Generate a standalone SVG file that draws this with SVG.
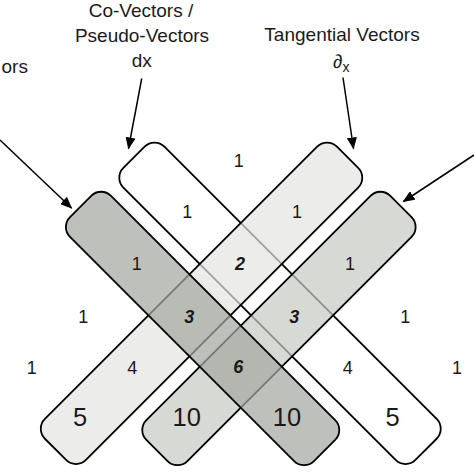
<svg xmlns="http://www.w3.org/2000/svg" width="474" height="474" viewBox="0 0 474 474">
  <defs>
    <marker id="ah" viewBox="0 0 12 10" refX="11" refY="5" markerWidth="12" markerHeight="10" markerUnits="userSpaceOnUse" orient="auto">
      <path d="M0,0 L12,5 L0,10 Z" fill="#000"/>
    </marker>
    <style>
      .band { stroke: #000; stroke-width: 1.8; }
      .lbl { font-family: "Liberation Sans", Arial, sans-serif; font-size: 19px; fill: #1a1a1a; text-anchor: middle; }
      .n { font-family: "Liberation Sans", Arial, sans-serif; font-size: 18px; fill: #1a1a1a; text-anchor: middle; }
      .b { font-weight: bold; font-style: italic; }
      .big { font-size: 25.5px; }
      .arr { stroke: #000; stroke-width: 1.5; fill: none; marker-end: url(#ah); }
    </style>
  </defs>
  <rect width="474" height="474" fill="#fff"/>

  <g id="band-A">
    <rect class="band" x="73.51" y="274.35" width="413" height="58" rx="14" fill="#ffffff" transform="rotate(45 280.01 303.35)"/>
  </g>
  <g id="band-B">
    <rect class="band" x="-4.97" y="274.35" width="413" height="58" rx="14" fill="rgb(228,228,225)" fill-opacity="0.7" transform="rotate(-45 201.53 303.35)"/>
  </g>
  <g id="band-D">
    <rect class="band" x="106.45" y="299.45" width="345" height="58" rx="14" fill="rgb(200,203,195)" fill-opacity="0.72" transform="rotate(-45 278.95 328.45)"/>
  </g>
  <g id="band-C">
    <rect class="band" x="30.09" y="299.45" width="345" height="58" rx="14" fill="rgb(165,169,161)" fill-opacity="0.72" transform="rotate(45 202.59 328.45)"/>
  </g>

  <g id="connectors">
    <line class="arr" x1="0" y1="140" x2="71.5" y2="208"/>
    <line class="arr" x1="141.7" y1="78.5" x2="128.5" y2="148.5"/>
    <line class="arr" x1="343" y1="77.5" x2="353.5" y2="148.5"/>
    <line class="arr" x1="474" y1="155" x2="403.5" y2="201.5"/>
  </g>

  <g id="labels">
    <text class="lbl" x="141" y="16.5">Co-Vectors /</text>
    <text class="lbl" x="142" y="41.5">Pseudo-Vectors</text>
    <text class="lbl" x="141.7" y="66.5">dx</text>
    <text class="lbl" x="342" y="40.5">Tangential Vectors</text>
    <text class="lbl" x="333" y="68" style="text-anchor:start">∂<tspan font-size="14" dy="4">x</tspan></text>
    <text class="lbl" x="1.5" y="72.7" style="text-anchor:start">ors</text>
  </g>

  <g id="numbers">
    <text class="n" x="238.7" y="167">1</text>
    <text class="n" x="187.3" y="218">1</text>
    <text class="n" x="297" y="218">1</text>
    <text class="n" x="136.7" y="270">1</text>
    <text class="n b" x="240" y="270">2</text>
    <text class="n" x="350" y="270">1</text>
    <text class="n" x="83.3" y="322.5">1</text>
    <text class="n b" x="189.3" y="322.5">3</text>
    <text class="n b" x="294.3" y="322.5">3</text>
    <text class="n" x="405.3" y="322.5">1</text>
    <text class="n" x="31.7" y="373.7">1</text>
    <text class="n" x="132.3" y="373.7">4</text>
    <text class="n b" x="238.3" y="373.2">6</text>
    <text class="n" x="347.7" y="373.7">4</text>
    <text class="n" x="457" y="373.7">1</text>
    <text class="n big" x="80" y="426">5</text>
    <text class="n big" x="186.7" y="426">10</text>
    <text class="n big" x="287" y="426">10</text>
    <text class="n big" x="392.7" y="426">5</text>
  </g>
</svg>
